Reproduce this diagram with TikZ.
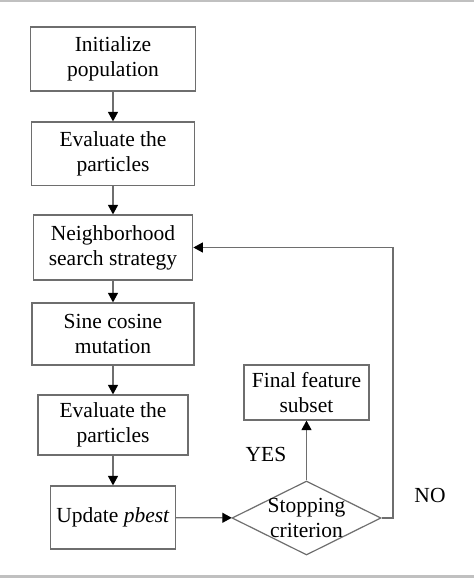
\documentclass[tikz,border=0pt]{standalone}
\usepackage{fontspec}
\setmainfont{Liberation Serif}
\usetikzlibrary{arrows.meta,shapes.geometric}
\definecolor{linegray}{HTML}{6E6E6E}
\definecolor{bargray}{HTML}{C0C0C0}
\tikzset{
  box/.style={draw=linegray, line width=1.2pt, inner sep=0pt, align=center,
    font=\fontsize{21.5}{25}\selectfont},
  lbl/.style={inner sep=0pt, font=\fontsize{21.5}{25}\selectfont},
  conn/.style={draw=linegray, line width=1.2pt, -{Triangle[length=9.5pt,width=10pt,color=black]}},
}
\begin{document}
\begin{tikzpicture}[x=1pt,y=-1pt]
\useasboundingbox (0,0) rectangle (474,578);
\fill[bargray] (0,0) rectangle (474,2.5);
\fill[bargray] (0,574.5) rectangle (474,578);
\node[box, minimum width=165pt, minimum height=64pt] (b1) at (113,59) {Initialize\\population};
\node[box, minimum width=162.5pt, minimum height=63.5pt] (b2) at (113,153.75) {Evaluate the\\particles};
\node[box, minimum width=159.5pt, minimum height=65pt] (b3) at (113,247.5) {Neighborhood\\search strategy};
\node[box, minimum width=162pt, minimum height=62pt] (b4) at (113,334) {Sine cosine\\mutation};
\node[box, minimum width=150pt, minimum height=60pt] (b5) at (113,425) {Evaluate the\\particles};
\node[box, minimum width=125pt, minimum height=63pt] (b6) at (113,517.5) {Update \textit{pbest}};
\node[draw=linegray, line width=1.2pt, diamond, minimum width=149pt, minimum height=74pt, inner sep=0pt, aspect=2] (stop) at (306.5,518) {};
\node[lbl, align=center] (stoptext) at (stop.center) {Stopping\\criterion};
\node[box, minimum width=125pt, minimum height=55pt] (fin) at (306.5,392.5) {Final feature\\subset};
\node[lbl] (yes) at (266,454) {YES};
\node[lbl] (no) at (430,495) {NO};
\coordinate (corner) at (393,518);
\draw[conn] (b1) -- (b2);
\draw[conn] (b2) -- (b3);
\draw[conn] (b3) -- (b4);
\draw[conn] (b4) -- (b5);
\draw[conn] (b5) -- (b6);
\draw[conn] (b6) -- (stop);
\draw[conn] (stop) -- (fin);
\draw[conn] (stop.east) -- (corner) |- (b3.east);
\end{tikzpicture}
\end{document}
